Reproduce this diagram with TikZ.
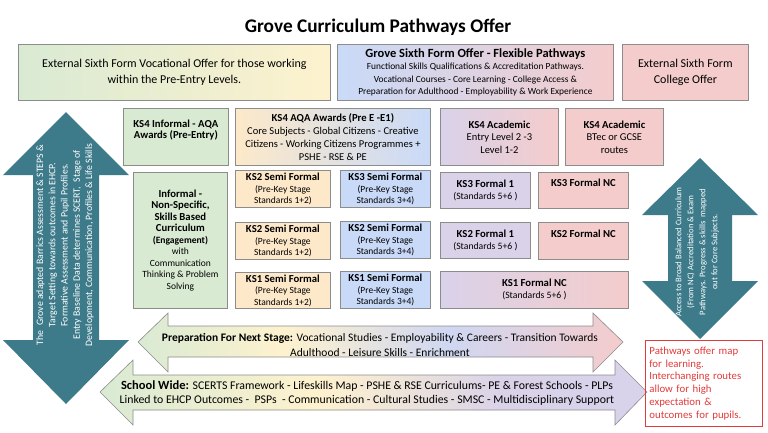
\documentclass[tikz,border=0pt]{standalone}
\usepackage{fontspec}
\setmainfont{Carlito}
\definecolor{cgreen}{HTML}{D9EAD3}
\definecolor{cyellow}{HTML}{FDE9C9}
\definecolor{cyellowb}{HTML}{FEF2CE}
\definecolor{cblue}{HTML}{C9DAF8}
\definecolor{clav}{HTML}{D9D2E9}
\definecolor{cpink}{HTML}{F4CCCC}
\definecolor{cteal}{HTML}{3E7B8A}
\definecolor{cborder}{HTML}{8C8C8C}
\definecolor{cred}{HTML}{E23B3B}
\pgfdeclarehorizontalshading{prepshade}{100bp}{color(0bp)=(cgreen); color(25bp)=(cgreen); color(40bp)=(cyellowb); color(57bp)=(cblue!60!clav); color(75bp)=(cpink); color(100bp)=(cpink)}
\pgfdeclarehorizontalshading{schoolshade}{100bp}{color(0bp)=(cgreen); color(25bp)=(cgreen); color(45bp)=(cyellowb); color(62bp)=(clav); color(75bp)=(clav!90!cblue); color(100bp)=(clav!90!cblue)}
\newcommand{\hb}[1]{{\fontsize{10.7}{12.5}\selectfont\bfseries #1}}
\tikzset{
  box/.style={draw=cborder, line width=0.8pt, align=center, inner sep=0.5pt, anchor=north west,
    font=\fontsize{9.5}{11.5}\selectfont},
  bigarrow/.style={fill=cteal, draw=none},
  flatarrow/.style={draw=cborder, line width=0.6pt},
  arrowtext/.style={text=white, align=center, rotate=90}
}
\begin{document}
\begin{tikzpicture}[x=1pt,y=-1pt]
\useasboundingbox (0,0) rectangle (768,432);
\fill[white] (0,0) rectangle (768,432);

% title
\node[font=\bfseries\fontsize{19.3}{22}\selectfont] (title) at (378,27) {Grove Curriculum Pathways Offer};

% top row
\node[box, left color=cgreen, right color=cyellowb, minimum width=312pt, minimum height=56pt,
  font=\fontsize{12}{15.5}\selectfont] (extvoc) at (18,44)
  {External Sixth Form Vocational Offer for those working\\within the Pre-Entry Levels.};
\node[box, left color=cblue, right color=cpink, minimum width=276pt, minimum height=56pt,
  font=\fontsize{9.4}{12.2}\selectfont] (grove6) at (337,44)
  {{\fontsize{12.5}{15}\selectfont\bfseries Grove Sixth Form Offer - Flexible Pathways}\\
   Functional Skills Qualifications \& Accreditation Pathways.\\
   Vocational Courses - Core Learning - College Access \&\\
   Preparation for Adulthood - Employability \& Work Experience};
\node[box, fill=cpink, minimum width=126pt, minimum height=56pt,
  font=\fontsize{12}{15.5}\selectfont] (extcol) at (622,44)
  {External Sixth Form\\College Offer};

% KS4 row
\node[box, fill=cgreen, minimum width=105pt, minimum height=57pt] (ks4inf) at (123,108)
  {\hb{KS4 Informal - AQA}\\\hb{Awards (Pre-Entry)}\\[4pt]};
\node[box, left color=cyellow, right color=cblue, minimum width=195pt, minimum height=57pt,
  font=\fontsize{10.5}{13.2}\selectfont] (ks4aqa) at (235,108)
  {\hb{KS4 AQA Awards (Pre E -E1)}\\Core Subjects - Global Citizens - Creative\\
   Citizens - Working Citizens Programmes +\\PSHE - RSE \& PE};
\node[box, left color=clav, right color=cpink, minimum width=118pt, minimum height=57pt,
  font=\fontsize{10.5}{12.5}\selectfont] (ks4acad) at (440,108)
  {\hb{KS4 Academic}\\Entry Level 2 -3\\Level 1-2};
\node[box, fill=cpink, minimum width=98pt, minimum height=57pt,
  font=\fontsize{10.5}{12.5}\selectfont] (ks4btec) at (565,108)
  {\hb{KS4 Academic}\\BTec or GCSE\\routes};

% informal tall box
\node[box, fill=cgreen, minimum width=94pt, minimum height=136pt] (informal) at (133,172)
  {\hb{Informal -}\\\hb{Non-Specific,}\\\hb{Skills Based}\\\hb{Curriculum}\\
   {\fontsize{9.6}{11.8}\selectfont\bfseries (Engagement)}\\with\\Communication\\Thinking \& Problem\\Solving};

% KS3 row
\node[box, fill=cyellow, minimum width=95pt, minimum height=37pt] (ks2sfa) at (235,170)
  {\hb{KS2 Semi Formal}\\(Pre-Key Stage\\Standards 1+2)};
\node[box, fill=cblue, minimum width=90pt, minimum height=37pt] (ks3sf) at (340,170)
  {\hb{KS3 Semi Formal}\\(Pre-Key Stage\\Standards 3+4)};
\node[box, fill=clav, minimum width=90pt, minimum height=36pt, font=\fontsize{9.7}{12}\selectfont] (ks3f1) at (440,172)
  {\hb{KS3 Formal 1}\\(Standards 5+6 )};
\node[box, fill=cpink, minimum width=90pt, minimum height=36pt] (ks3nc) at (538,172)
  {\hb{KS3 Formal NC}\\\strut};

% KS2 row
\node[box, fill=cyellow, minimum width=95pt, minimum height=37pt] (ks2sfb) at (235,222)
  {\hb{KS2 Semi Formal}\\(Pre-Key Stage\\Standards 1+2)};
\node[box, fill=cblue, minimum width=90pt, minimum height=37pt] (ks2sfc) at (340,221)
  {\hb{KS2 Semi Formal}\\(Pre-Key Stage\\Standards 3+4)};
\node[box, fill=clav, minimum width=90pt, minimum height=36pt, font=\fontsize{9.7}{12}\selectfont] (ks2f1) at (440,222)
  {\hb{KS2 Formal 1}\\(Standards 5+6 )};
\node[box, fill=cpink, minimum width=90pt, minimum height=37pt] (ks2nc) at (538,222)
  {\hb{KS2 Formal NC}\\\strut};

% KS1 row
\node[box, fill=cyellow, minimum width=95pt, minimum height=36pt] (ks1sfa) at (235,272)
  {\hb{KS1 Semi Formal}\\(Pre-Key Stage\\Standards 1+2)};
\node[box, fill=cblue, minimum width=90pt, minimum height=37pt] (ks1sfb) at (340,271)
  {\hb{KS1 Semi Formal}\\(Pre-Key Stage\\Standards 3+4)};
\node[box, left color=clav, right color=cpink, minimum width=188pt, minimum height=37pt,
  font=\fontsize{9.7}{12}\selectfont] (ks1nc) at (440,271)
  {\hb{KS1 Formal NC}\\(Standards 5+6 )};

% left teal double arrow
\path[bigarrow] (66,112) -- (129,175) -- (99,175) -- (99,340) -- (129,340) -- (66,404)
  -- (3,340) -- (33,340) -- (33,175) -- (3,175) -- cycle;
\node[arrowtext, font=\fontsize{9.8}{12.3}\selectfont] (lefttext) at (65,245)
  {The\ \ Grove adapted Barrics Assessment \& STEPS \&\\
   Target Setting towards outcomes in EHCP.\\
   Formative Assessment and Pupil Profiles.\\
   Entry Baseline Data determines SCERT,\ \ Stage of\\
   Development, Communication, Profiles \& Life Skills};

% right teal double arrow
\path[bigarrow] (700,158) -- (758,215) -- (732,215) -- (732,281) -- (758,281) -- (700,339)
  -- (642,281) -- (668,281) -- (668,215) -- (642,215) -- cycle;
\node[arrowtext, font=\fontsize{8.6}{12}\selectfont] (righttext) at (697,252)
  {Access to Broad Balanced Curriculum\\
   (From NC) Accreditation \& Exam\\
   Pathways. Progress \& skills\ \ mapped\\
   out for Core Subjects.};

% preparation arrow
\path[flatarrow, shading=prepshade] (138,342) -- (168,313) -- (168,326) -- (593,326) -- (593,313)
  -- (623,342) -- (593,372) -- (593,357) -- (168,357) -- (168,372) -- cycle;
\node[font=\fontsize{11.5}{15}\selectfont, align=center] (preptext) at (380,345)
  {\textbf{Preparation For Next Stage:} Vocational Studies - Employability \& Careers - Transition Towards\\
   Adulthood - Leisure Skills - Enrichment};

% school wide arrow
\path[flatarrow, shading=schoolshade] (100,392) -- (133,360) -- (133,375) -- (615,375) -- (615,360)
  -- (647,392) -- (615,425) -- (615,410) -- (133,410) -- (133,425) -- cycle;
\node[font=\fontsize{11.8}{14}\selectfont, align=center] (schooltext) at (367,393)
  {{\fontsize{12.5}{14}\selectfont\bfseries School Wide:} SCERTS Framework - Lifeskills Map - PSHE \& RSE Curriculums- PE \& Forest Schools - PLPs\\
   Linked to EHCP Outcomes -\ \ PSPs\ \ - Communication - Cultural Studies - SMSC - Multidisciplinary Support};

% red note
\node[draw=cred, line width=0.8pt, text=cred, align=left, anchor=north west, inner sep=4pt,
  text width=109pt, minimum height=86pt, font=\fontsize{10.8}{12.8}\selectfont] (note) at (645,340)
  {Pathways offer map\\for learning.\\Interchanging routes\\allow for high\\expectation \&\\outcomes for pupils.\\[3pt]};
\end{tikzpicture}
\end{document}
